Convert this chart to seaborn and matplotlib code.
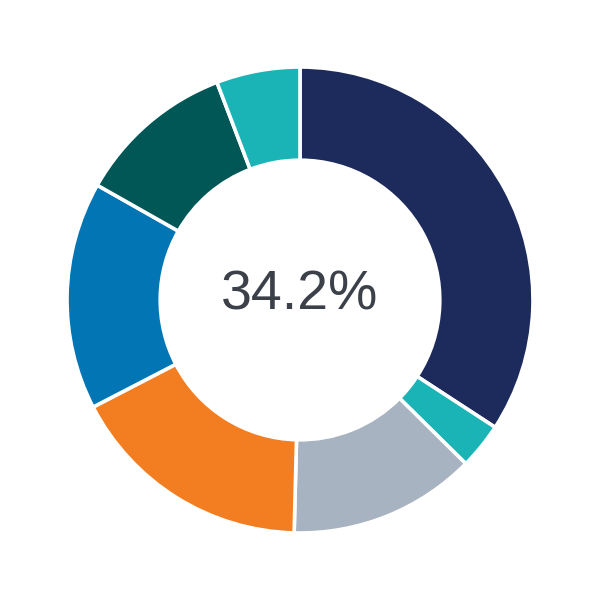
import matplotlib
matplotlib.use('Agg')
import matplotlib.pyplot as plt
import seaborn as sns

shares = [34.2, 3.2, 13.0, 17.0, 15.8, 11.0, 5.8]
colors = ['#1c2b5b', '#1ab4b7', '#a8b3c1', '#f37e21', '#0276b5', '#015656', '#1ab4b7']
center_label = '34.2%'

sns.set_theme(style='white')
plt.rcParams['font.family'] = ['Liberation Sans', 'DejaVu Sans']

fig = plt.figure(figsize=(6, 6), dpi=100)
ax = fig.add_axes([0, 0, 1, 1])
ax.pie(shares, colors=colors, startangle=90, counterclock=False,
       wedgeprops=dict(width=0.4, edgecolor='white', linewidth=2.6))
ax.text(0, 0.02, center_label, ha='center', va='center', fontsize=40, color='#3b4049')
ax.set_xlim(-1.2876, 1.2876)
ax.set_ylim(-1.2876, 1.2876)
ax.set_aspect('equal')
ax.axis('off')

fig.savefig('out.png', dpi=100, facecolor='white')
